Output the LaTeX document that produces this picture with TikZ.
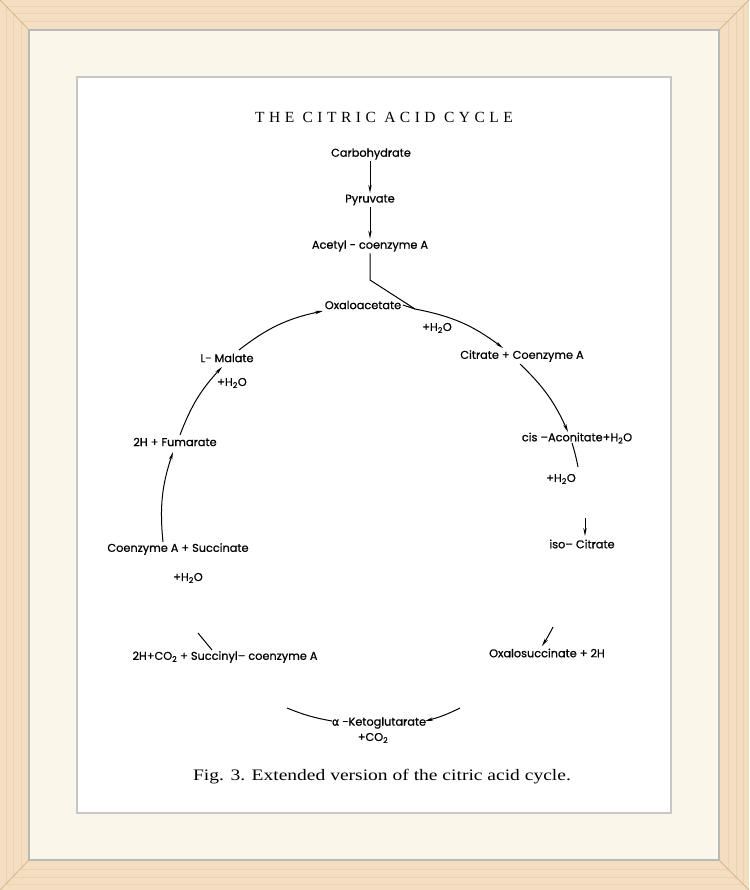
\documentclass[tikz,border=0pt]{standalone}
\usepackage{fontspec}
\setmainfont{Liberation Serif}
\newfontfamily\labfont[FakeBold=0.7]{Poppins}
\newfontfamily\grkfont[FakeBold=0.7]{DejaVu Sans}
\usetikzlibrary{arrows.meta}
\definecolor{wood}{RGB}{243,222,193}
\definecolor{woodline}{RGB}{214,182,138}
\definecolor{grain}{RGB}{235,210,176}
\definecolor{matcol}{RGB}{250,247,234}
\definecolor{matedge}{RGB}{186,186,180}
\begin{document}
\begin{tikzpicture}[x=1pt,y=-1pt,
  lbl/.style={font=\labfont\fontsize{11.3}{13}\selectfont, inner sep=1.5pt},
  ln/.style={line width=1pt},
  arr/.style={line width=1pt, -{Stealth[length=8pt,width=3.4pt]}},
  grainline/.style={grain, line width=0.6pt}]
\useasboundingbox (0,0) rectangle (749,890);
% frame, mat and paper
\fill[wood] (0,0) rectangle (749,890);
\begin{scope}
  \clip (0,0) -- (749,0) -- (719,30) -- (29,30) -- cycle (0,890) -- (749,890) -- (719,860) -- (29,860) -- cycle;
  \foreach \g in {6,13,21} {
    \draw[grainline] (0,\g) -- (749,\g);
    \draw[grainline] (0,890-\g) -- (749,890-\g);
  }
\end{scope}
\begin{scope}
  \clip (0,0) -- (29,30) -- (29,860) -- (0,890) -- cycle (749,0) -- (719,30) -- (719,860) -- (749,890) -- cycle;
  \foreach \g in {6,13,21} {
    \draw[grainline] (\g,0) -- (\g,890);
    \draw[grainline] (749-\g,0) -- (749-\g,890);
  }
\end{scope}
\draw[woodline, line width=0.8pt] (0,0) -- (29,30) (749,0) -- (719,30) (0,890) -- (29,860) (749,890) -- (719,860);
\fill[matcol] (29,30) rectangle (719,860);
\draw[matedge, line width=1.2pt] (29,30) rectangle (719,860);
\fill[white] (77,77) rectangle (671,813);
\draw[black!22, line width=1.6pt] (77,77) rectangle (671,813);
% title and caption
\node (title) [font=\fontsize{15.5}{17}\selectfont\addfontfeature{LetterSpace=29}] at (384,117) {THE CITRIC ACID CYCLE};
\node (caption) [font=\fontsize{16}{18}\selectfont\addfontfeature{FakeStretch=1.22}] at (382,777) {Fig. 3. Extended version of the citric acid cycle.};
% labels
\node[lbl] (carb) at (371,154) {Carbohydrate};
\node[lbl] (pyr) at (370,200) {Pyruvate};
\node[lbl] (acet) at (370,246) {Acetyl - coenzyme A};
\node[lbl] (oxal) at (363,305) {Oxaloacetate};
\node[lbl] (w1) at (437,328) {+H\textsubscript{2}O};
\node[lbl] (citr) at (522,356) {Citrate + Coenzyme A};
\node[lbl] (cis) at (577,438) {cis –Aconitate+H\textsubscript{2}O};
\node[lbl] (w2) at (561,479) {+H\textsubscript{2}O};
\node[lbl] (iso) at (582,544) {iso– Citrate};
\node[lbl] (oxsu) at (547,653) {Oxalosuccinate + 2H};
\node[lbl] (keto) at (379,723) {{\grkfont α} -Ketoglutarate};
\node[lbl] (co2) at (373,738) {+CO\textsubscript{2}};
\node[lbl] (succo) at (225,657) {2H+CO\textsubscript{2} + Succinyl– coenzyme A};
\node[lbl] (w3) at (188,578) {+H\textsubscript{2}O};
\node[lbl] (succ) at (178,549) {Coenzyme A + Succinate};
\node[lbl] (fum) at (175,442) {2H + Fumarate};
\node[lbl] (w4) at (232,383) {+H\textsubscript{2}O};
\node[lbl] (mal) at (227,358) {L- Malate};
% connector end points on the cycle
\coordinate (K) at (370,280);
\coordinate (J) at (415,309);
\coordinate (c1) at (503,348);
\coordinate (c2s) at (520,364);
\coordinate (c2e) at (568,432);
\coordinate (c3s) at (572,443);
\coordinate (c3e) at (578,467);
\coordinate (c4s) at (585,518);
\coordinate (c4e) at (585,536);
\coordinate (c5s) at (553,627);
\coordinate (c5e) at (542,646);
\coordinate (c6s) at (460,708);
\coordinate (c6e) at (425,721);
\coordinate (c7s) at (287,708);
\coordinate (c7e) at (332,721);
\coordinate (c8s) at (212,650);
\coordinate (c8e) at (198,633);
\coordinate (c9s) at (163,542);
\coordinate (c9e) at (173,452);
\coordinate (c10s) at (180,435);
\coordinate (c10e) at (222,367);
\coordinate (c11s) at (239,350);
\coordinate (c11e) at (323,311);
% connectors
\draw[arr] (carb.south -| pyr) -- (pyr);
\draw[arr] (pyr) -- (acet);
\draw[ln] (acet) -- (K) -- (J);
\draw[ln] (oxal.east) -- (J);
\draw[arr] (J) to[bend left=13] (c1);
\draw[arr] (c2s) to[bend left=11] (c2e);
\draw[ln] (c3s) to[bend left=3] (c3e);
\draw[arr] (c4s) -- (c4e);
\draw[arr] (c5s) to[bend left=3] (c5e);
\draw[arr] (c6s) to[bend left=6] (c6e);
\draw[ln] (c7s) to[bend right=6] (c7e);
\draw[ln] (c8s) -- (c8e);
\draw[arr] (c9s) to[bend left=12] (c9e);
\draw[arr] (c10s) to[bend left=11] (c10e);
\draw[arr] (c11s) to[bend left=13] (c11e);
\end{tikzpicture}
\end{document}
